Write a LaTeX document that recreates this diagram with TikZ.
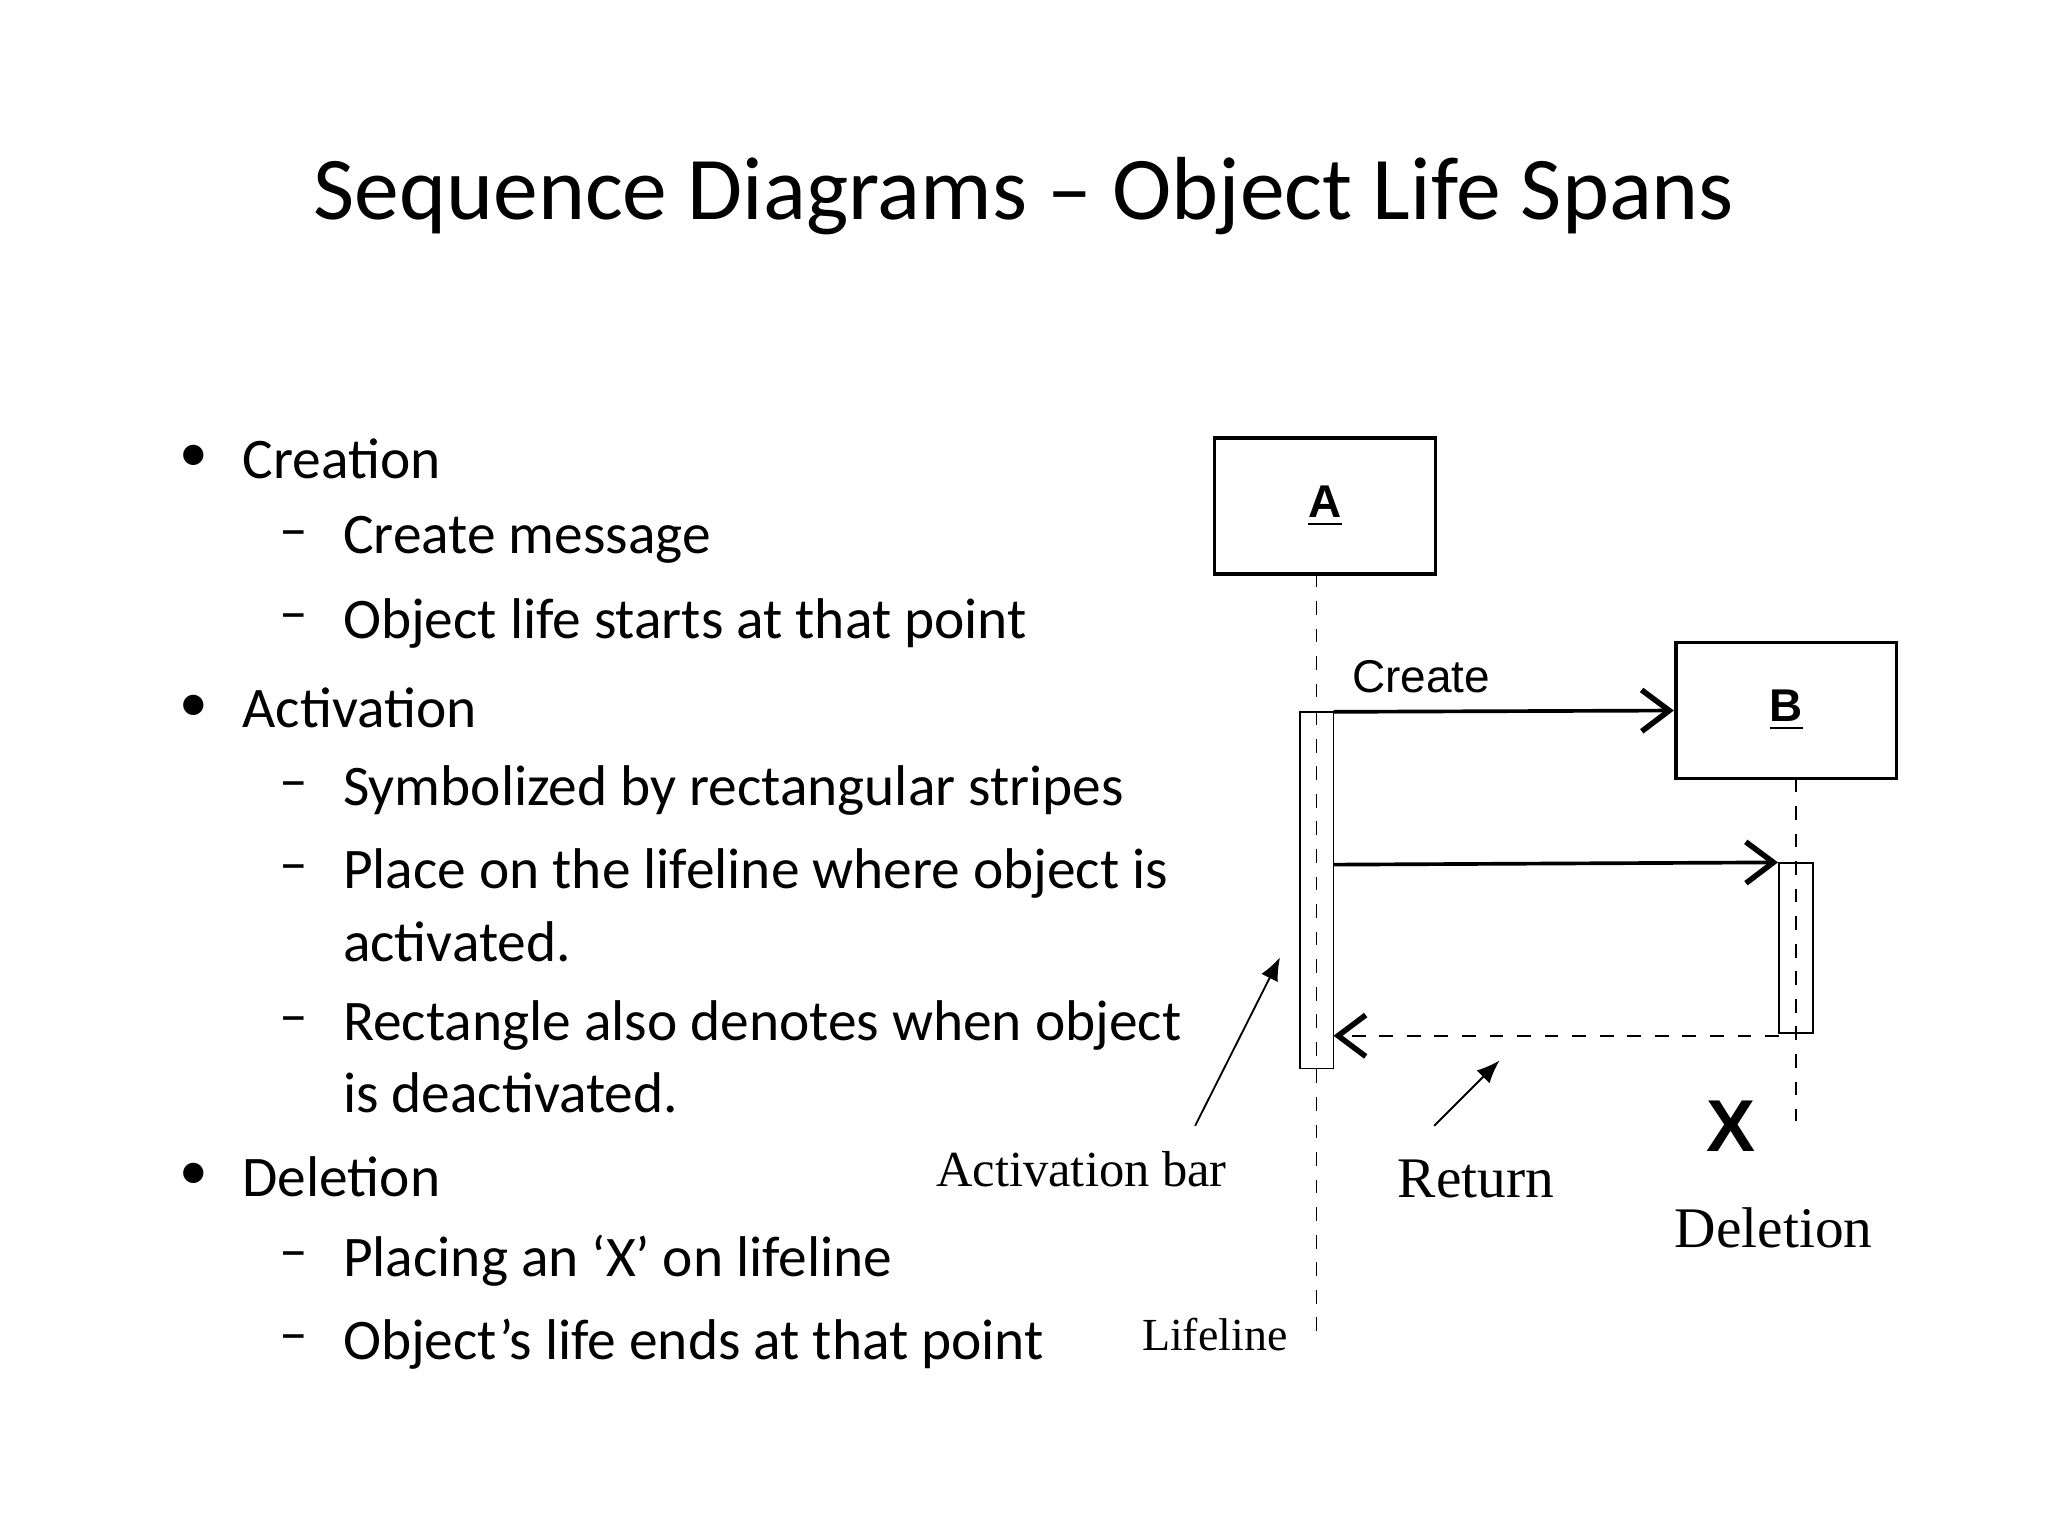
\documentclass[tikz,border=0pt]{standalone}
\usepackage{fontspec}
\setmainfont{Carlito}
\newfontfamily\arialf{Liberation Sans}
\newfontfamily\timesf{Liberation Serif}
\usetikzlibrary{arrows.meta}
\begin{document}
\begin{tikzpicture}[x=0.01cm,y=-0.01cm,
  txt/.style={anchor=west,inner sep=0,font=\fontsize{12.5}{15}\selectfont},
  box/.style={draw,thick,minimum width=1.69cm,minimum height=1.03cm,inner sep=0,font=\arialf\bfseries\fontsize{10}{12}\selectfont},
  bar/.style={draw,minimum width=0.26cm,inner sep=0},
  life/.style={dashed,thin},
  msg/.style={thick,-{Straight Barb[length=6pt,width=9pt,line width=1.2pt]}},
  ptr/.style={thin,-{Latex[length=5pt,width=4pt]}},
  lab/.style={inner sep=0,font=\timesf\fontsize{11}{13}\selectfont}]
\useasboundingbox (0,0) rectangle (1568,1176);
\node[inner sep=0,font=\fontsize{19.5}{23}\selectfont] (title) at (784,150) {Sequence Diagrams – Object Life Spans};
% bullets
\foreach \y/\t [count=\i] in {351/Creation,542/Activation,901/Deletion}{
  \node[txt] (bd\i) at (137,\y) {•};
  \node[txt] (b\i) at (185,\y) {\t};}
\foreach \y/\t [count=\i] in {413/Create message,477/Object life starts at that point,605/Symbolized by rectangular stripes,669/Place on the lifeline where object is,721/activated.,785/Rectangle also denotes when object,837/is deactivated.,965/Placing an ‘X’ on lifeline,1029/Object’s life ends at that point}{
  \node[txt] (s\i) at (262,\y) {\t};}
\foreach \y [count=\i] in {413,477,605,669,785,965,1029}{
  \node[txt] (sd\i) at (213,\y) {–};}
% diagram
\node[box,minimum height=1.04cm] (A) at (1014.5,387.5) {\underline{A}};
\node[box,minimum height=1.04cm] (B) at (1367.5,544) {\underline{B}};
\coordinate (Aend) at (1008,1028);
\coordinate (Bend) at (1375,858);
\draw[life] (1008,439) -- (Aend);
\draw[life] (1375,596) -- (Bend);
\node[bar,minimum height=2.73cm] (actA) at (1008,681.5) {};
\node[bar,minimum height=1.30cm] (actB) at (1375,726) {};
\draw[msg] (1021,545) -- (B.west);
\node[inner sep=0,font=\arialf\fontsize{10}{12}\selectfont] (create) at (1088,518) {Create};
\draw[msg] (1021,662) -- (actB.north west);
\draw[msg,dashed,thin] (1362,793) -- (1021,793);
\node[lab] (actlab) at (828,895) {Activation bar};
\coordinate (actpt) at (980,733);
\draw[ptr] (915,862) -- (actpt);
\node[lab,font=\timesf\fontsize{12.5}{15}\selectfont] (ret) at (1130,903) {Return};
\coordinate (retpt) at (1148,812);
\draw[ptr] (1098,862) -- (retpt);
\node[inner sep=0,font=\arialf\bfseries\fontsize{16}{18}\selectfont] (X) at (1325,862) {X};
\node[lab,font=\timesf\fontsize{12.5}{15}\selectfont] (del) at (1358,940) {Deletion};
\node[lab,font=\timesf\fontsize{10}{12}\selectfont] (lifelab) at (930,1022) {Lifeline};
\end{tikzpicture}
\end{document}
